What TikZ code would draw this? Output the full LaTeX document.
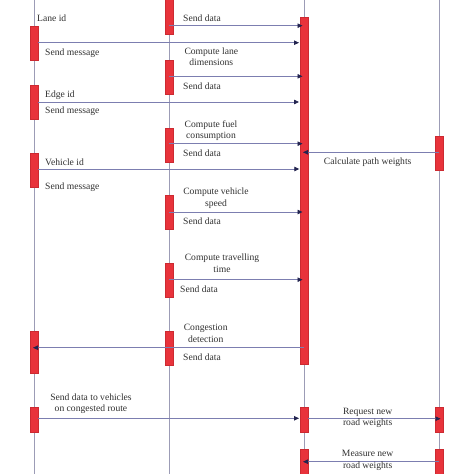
\documentclass[tikz,border=0pt]{standalone}
\usepackage{fontspec}
\setmainfont{Liberation Serif}
\usetikzlibrary{arrows.meta}
\definecolor{actred}{HTML}{E8333B}
\definecolor{actedge}{HTML}{CC2A31}
\definecolor{lline}{HTML}{9C9CB6}
\definecolor{msgline}{HTML}{7C7EB0}
\definecolor{tipcol}{HTML}{23244F}
\definecolor{txt}{HTML}{303030}
\tikzset{
 act/.style={fill=actred, draw=actedge, line width=0.4pt, minimum width=8.4pt, inner sep=0pt, anchor=north},
 life/.style={draw=lline, line width=0.9pt},
 msg/.style={draw=msgline, line width=0.8pt, -{Triangle[length=5pt,width=4.5pt,fill=tipcol,color=tipcol]}},
 lbl/.style={font=\fontsize{9.6}{11.4}\selectfont, text=txt, inner sep=0pt, align=center},
}
\begin{document}
\begin{tikzpicture}[x=1pt,y=-1pt]
\useasboundingbox (0,0) rectangle (474,474);
% lifelines
\foreach \n/\x in {1/34,2/169,3/304,4/439}{
  \coordinate (L\n t) at (\x,-2);
  \coordinate (L\n b) at (\x,476);
  \draw[life] (L\n t) -- (L\n b);
}
% activation boxes
\node[act, minimum height=34pt] (a11) at (34,26) {};
\node[act, minimum height=34pt] (a12) at (34,85) {};
\node[act, minimum height=34pt] (a13) at (34,152.7) {};
\node[act, minimum height=42pt] (a14) at (34,330.7) {};
\node[act, minimum height=25.6pt] (a15) at (34,406.7) {};
\node[act, minimum height=37pt] (a21) at (169,-3) {};
\node[act, minimum height=34pt] (a22) at (169,60) {};
\node[act, minimum height=34pt] (a23) at (169,127.7) {};
\node[act, minimum height=34pt] (a24) at (169,195.3) {};
\node[act, minimum height=34pt] (a25) at (169,262.7) {};
\node[act, minimum height=34pt] (a26) at (169,330.7) {};
\node[act, minimum height=347pt] (a31) at (304,17.3) {};
\node[act, minimum height=25.6pt] (a32) at (304,406.7) {};
\node[act, minimum height=28pt] (a33) at (304,449) {};
\node[act, minimum height=34.3pt] (a41) at (439,135.7) {};
\node[act, minimum height=25.6pt] (a42) at (439,406.7) {};
\node[act, minimum height=28pt] (a43) at (439,449) {};
% message end points
\coordinate (m1s) at (169,25.7);   \coordinate (m1e) at (302.5,25.7);
\coordinate (m2s) at (38,42.7);    \coordinate (m2e) at (299,42.7);
\coordinate (m3s) at (169,76.3);   \coordinate (m3e) at (302.5,76.3);
\coordinate (m4s) at (38,102);     \coordinate (m4e) at (299,102);
\coordinate (m5s) at (169,143.7);  \coordinate (m5e) at (302.5,143.7);
\coordinate (m6s) at (439,152.3);  \coordinate (m6e) at (303,152.3);
\coordinate (m7s) at (38,169);     \coordinate (m7e) at (299.3,169);
\coordinate (m8s) at (169,212);    \coordinate (m8e) at (302.5,212);
\coordinate (m9s) at (169,279.7);  \coordinate (m9e) at (302.5,279.7);
\coordinate (m10s) at (304,347.7); \coordinate (m10e) at (33,347.7);
\coordinate (m11s) at (38,418.3);  \coordinate (m11e) at (299,418.3);
\coordinate (m12s) at (308,418.7); \coordinate (m12e) at (440.5,418.7);
\coordinate (m13s) at (439,461.7); \coordinate (m13e) at (303,461.7);
\foreach \i in {1,...,13}{ \draw[msg] (m\i s) -- (m\i e); }
% labels
\node[lbl, anchor=west] (t1) at (183,18) {Send data};
\node[lbl, anchor=west] (t2) at (37,18) {Lane id};
\node[lbl, anchor=west] (t3) at (45,53) {Send message};
\node[lbl] (t4) at (211.3,56.5) {Compute lane\\dimensions};
\node[lbl, anchor=west] (t5) at (183,86) {Send data};
\node[lbl, anchor=west] (t6) at (45,95) {Edge id};
\node[lbl, anchor=west] (t7) at (45,111.7) {Send message};
\node[lbl] (t8) at (211,130.5) {Compute fuel\\consumption};
\node[lbl, anchor=west] (t9) at (183,153.7) {Send data};
\node[lbl] (t10) at (367.7,162.3) {Calculate path weights};
\node[lbl, anchor=west] (t11) at (45,162.3) {Vehicle id};
\node[lbl, anchor=west] (t12) at (45,187.7) {Send message};
\node[lbl] (t13) at (216,198) {Compute vehicle\\speed};
\node[lbl, anchor=west] (t14) at (183,221.7) {Send data};
\node[lbl] (t15) at (222,263.3) {Compute travelling\\time};
\node[lbl, anchor=west] (t16) at (180,289) {Send data};
\node[lbl] (t17) at (205.7,333.3) {Congestion\\detection};
\node[lbl, anchor=west] (t18) at (183,357) {Send data};
\node[lbl] (t19) at (91,403.5) {Send data to vehicles\\on congested route};
\node[lbl] (t20) at (367.7,418) {Request new\\road weights};
\node[lbl] (t21) at (367.7,460.5) {Measure new\\road weights};
\end{tikzpicture}
\end{document}
